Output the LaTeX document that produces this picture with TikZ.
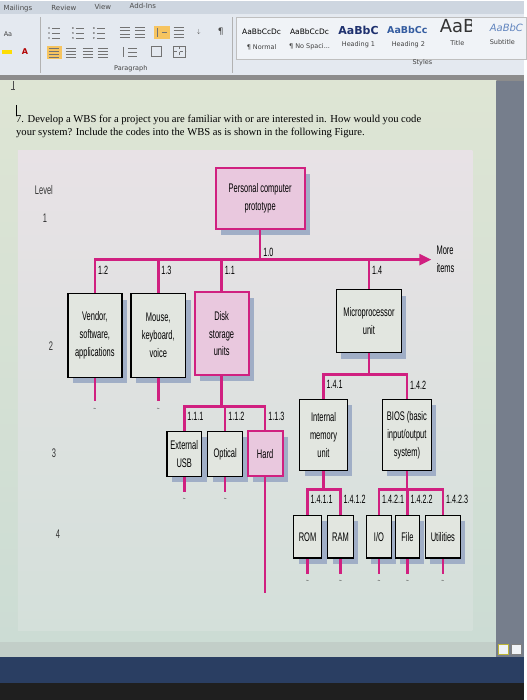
\documentclass[tikz,border=0pt]{standalone}
\usepackage{fontspec}
\setmainfont{Liberation Serif}
\newfontfamily\figfont[FakeStretch=0.6]{Liberation Sans}
\newfontfamily\uifont{DejaVu Sans}
\usetikzlibrary{arrows.meta, positioning, shadows, backgrounds}

\definecolor{wbsmagenta}{RGB}{208,32,128}
\definecolor{wbspink}{RGB}{233,200,222}
\definecolor{shadowblue}{RGB}{160,174,198}
\definecolor{boxfill}{RGB}{226,230,224}
\definecolor{figtop}{RGB}{232,226,230}
\definecolor{figbot}{RGB}{212,224,218}
\definecolor{pagetop}{RGB}{222,229,212}
\definecolor{pagebot}{RGB}{204,220,212}
\definecolor{sidegray}{RGB}{118,126,140}
\definecolor{statusbar}{RGB}{194,206,200}
\definecolor{taskbar}{RGB}{42,62,98}
\definecolor{ribbonbg}{RGB}{228,233,240}
\definecolor{tabbg}{RGB}{206,214,224}
\definecolor{gallerybg}{RGB}{240,243,247}
\definecolor{btnorange}{RGB}{246,196,96}
\definecolor{headone}{RGB}{30,48,110}
\definecolor{headtwo}{RGB}{52,92,160}
\definecolor{subtblue}{RGB}{96,132,190}

\begin{document}
\begin{tikzpicture}[
    x=1pt, y=-1pt,
    wbsbox/.style={rectangle, draw=black, line width=1.5pt, fill=boxfill, inner sep=1pt,
        align=center, font=\figfont\fontsize{12.5}{18}\selectfont,
        drop shadow={shadow xshift=5pt, shadow yshift=-6pt, fill=shadowblue, opacity=1}},
    pinkbox/.style={wbsbox, draw=wbsmagenta, line width=2pt, fill=wbspink},
    lvtwo/.style={minimum width=54pt, minimum height=84pt},
    lvthree/.style={minimum width=35pt, minimum height=45pt},
    lvfour/.style={minimum height=43pt},
    wbsline/.style={draw=wbsmagenta, line width=2.6pt},
    code/.style={font=\figfont\fontsize{12}{14}\selectfont, inner sep=1pt},
    codebelow/.style={code, anchor=north west, xshift=2pt, yshift=-5pt},
    levellabel/.style={font=\figfont\fontsize{12.5}{14}\selectfont, text=black!80},
    tilde/.style={font=\figfont\fontsize{8}{8}\selectfont, text=black!70, inner sep=0pt},
    tab/.style={font=\uifont\fontsize{7}{8}\selectfont, text=black!70},
    uitext/.style={font=\uifont\fontsize{6.5}{8}\selectfont, text=black!75},
    icon/.style={draw=black!55, line width=0.8pt}
]

% Screen around the page
\begin{scope}[on background layer]
    \fill[ribbonbg] (0,0) rectangle (525,74);
    \fill[tabbg] (0,0) rectangle (525,13);
    \fill[black!45] (0,74) rectangle (525,80);
    \shade[top color=pagetop, bottom color=pagebot] (0,80) rectangle (497,642);
    \fill[sidegray] (497,80) rectangle (525,657);
    \fill[statusbar] (0,642) rectangle (497,657);
    \fill[taskbar] (0,657) rectangle (525,683);
    \fill[black!88] (0,683) rectangle (525,700);
    \shade[top color=figtop, bottom color=figbot] (18,150) rectangle (473,630);
\end{scope}

% Ribbon tabs
\node[tab] (tmail) at (18,8) {Mailings};
\node[tab] (trev) at (64,7) {Review};
\node[tab] (tview) at (103,6) {View};
\node[tab] (tadd) at (143,5) {Add-Ins};

% Paragraph group
\draw[black!30] (40,16) -- (40,72);
\draw[black!30] (233,16) -- (233,72);
\node[uitext] (aa) at (8,33) {Aa};
\node[font=\uifont\bfseries\fontsize{8}{8}\selectfont, text=red!70!black] (fontcol) at (25,51) {A};
\fill[yellow!80!orange] (2,49) rectangle (12,53);
\fill[btnorange] (154,25) rectangle (170,38);
\fill[btnorange] (47,45) rectangle (62,58);
\foreach \x in {48,72,93} {
    \foreach \r in {0,1,2} {
        \fill[black!55] (\x+1,27+5*\r) circle (0.9);
        \draw[icon] (\x+4,27+5*\r) -- (\x+12,27+5*\r);
    }
}
\foreach \x in {120,135,174} {
    \foreach \r in {0,1,2,3} \draw[icon, line width=0.6pt] (\x,26+3.5*\r) -- (\x+10,26+3.5*\r);
}
\foreach \x in {49,66,83,98} {
    \foreach \r in {0,1,2,3} \draw[icon, line width=0.6pt] (\x,47+3*\r) -- (\x+10,47+3*\r);
}
\draw[icon, line width=0.6pt] (158,27) -- (158,36) (162,31) -- (167,31);
\node[uitext] (sortaz) at (199,31) {$\downarrow$};
\node[font=\uifont\fontsize{9}{9}\selectfont, text=black!70] (pilcrow) at (221,31) {¶};
\foreach \r in {0,1,2} \draw[icon, line width=0.6pt] (128,47+4*\r) -- (137,47+4*\r);
\draw[icon] (124,46) -- (124,56);
\draw[icon] (152,45) rectangle (162,55);
\draw[icon] (174,45) rectangle (186,56);
\draw[icon, dashed, line width=0.5pt] (174,50.5) -- (186,50.5) (180,45) -- (180,56);
\node[uitext] (lblpara) at (131,68) {Paragraph};

% Styles gallery
\draw[black!25, fill=gallerybg] (237,16) rectangle (527,58);
\node[font=\uifont\fontsize{7.5}{8}\selectfont] (snorm) at (262,31) {AaBbCcDc};
\node[uitext] (lnorm) at (262,46) {¶ Normal};
\node[font=\uifont\fontsize{7.5}{8}\selectfont] (snosp) at (310,31) {AaBbCcDc};
\node[uitext] (lnosp) at (310,46) {¶ No Spaci...};
\node[font=\uifont\bfseries\fontsize{11}{12}\selectfont, text=headone] (shone) at (359,29) {AaBbC};
\node[uitext] (lhone) at (359,44) {Heading 1};
\node[font=\uifont\bfseries\fontsize{9.5}{10}\selectfont, text=headtwo] (shtwo) at (408,29) {AaBbCc};
\node[uitext] (lhtwo) at (409,44) {Heading 2};
\begin{scope}
    \clip (436,10) rectangle (472,40);
    \node[font=\uifont\fontsize{18}{18}\selectfont, text=black!80, anchor=west] (stitle) at (437,25) {AaB};
\end{scope}
\node[uitext] (ltitle) at (458,42) {Title};
\node[font=\uifont\itshape\fontsize{10}{10}\selectfont, text=subtblue, anchor=west] (ssub) at (487,27) {AaBbC};
\node[uitext, anchor=west] (lsub) at (487,41) {Subtitle};
\node[uitext] (lblstyles) at (423,62) {Styles};

% Ruler mark, cursor and the question
\draw[black!70, line width=0.7pt] (13,80) -- (13,88) (11,88) -- (15,88);
\draw[black, line width=0.6pt] (16.5,104) -- (16.5,115);
\node[anchor=north west, align=left, inner sep=0pt, font=\fontsize{10.6}{13}\selectfont] (question) at (16,114)
    {7. Develop a WBS for a project you are familiar with or are interested in. How would you code\\
     your system? Include the codes into the WBS as is shown in the following Figure.};

% Level column
\node[levellabel] (lvl) at (44,189) {Level};
\node[levellabel] (lvl1) at (45,217) {1};
\node[levellabel] (lvl2) at (51,346) {2};
\node[levellabel] (lvl3) at (54,453) {3};
\node[levellabel] (lvl4) at (58,534) {4};

% Level 1
\node[pinkbox, minimum width=89pt, minimum height=61pt] (pc) at (260.5,197.5) {Personal computer\\prototype};

% Level 2
\node[wbsbox, lvtwo] (vendor) at (95,335) {Vendor,\\software,\\applications};
\node[wbsbox, lvtwo, minimum width=55pt] (mouse) at (158.5,335) {Mouse,\\keyboard,\\voice};
\node[pinkbox, lvtwo] (disk) at (222,333) {Disk\\storage\\units};
\node[wbsbox, minimum width=65pt, minimum height=63pt] (micro) at (369.5,320.5) {Microprocessor\\unit};

% Level 3
\node[wbsbox, lvthree] (usb) at (184.5,453.5) {External\\USB};
\node[wbsbox, lvthree] (optical) at (225.5,453.5) {Optical};
\node[pinkbox, lvthree] (hard) at (265.5,453.5) {Hard};
\node[wbsbox, minimum width=48pt, minimum height=71pt] (intmem) at (324,434.5) {Internal\\memory\\unit};
\node[wbsbox, minimum width=49pt, minimum height=71pt] (bios) at (407.5,434.5) {BIOS (basic\\input/output\\system)};

% Level 4
\node[wbsbox, lvfour, minimum width=28pt] (rom) at (308,536.5) {ROM};
\node[wbsbox, lvfour, minimum width=26pt] (ram) at (341,536.5) {RAM};
\node[wbsbox, lvfour, minimum width=25pt] (io) at (379.5,536.5) {I/O};
\node[wbsbox, lvfour, minimum width=24pt] (file) at (408,536.5) {File};
\node[wbsbox, lvfour, minimum width=35pt] (util) at (443.5,536.5) {Utilities};

% Junctions
\coordinate (mainbar) at (432,259);
\coordinate (diskbar) at (222,406);
\coordinate (microbar) at (369.5,374);
\coordinate (membar) at (324,489);
\coordinate (biosbar) at (407.5,489);

% Connectors
\draw[wbsline] (pc.south) -- (pc.south |- mainbar);
\draw[wbsline, -{Triangle[length=12pt, width=11pt]}] (vendor.north) |- (mainbar);
\draw[wbsline] (mouse.north) -- (mouse.north |- mainbar);
\draw[wbsline] (disk.north) -- (disk.north |- mainbar);
\draw[wbsline] (micro.north) -- (micro.north |- mainbar);

\draw[wbsline] (disk.south) -- (diskbar);
\draw[wbsline] (usb.north) |- (diskbar) -| (hard.north);
\draw[wbsline] (optical.north) -- (optical.north |- diskbar);

\draw[wbsline] (micro.south) -- (microbar);
\draw[wbsline] (intmem.north) |- (microbar) -| (bios.north);

\draw[wbsline] (intmem.south) -- (membar);
\draw[wbsline] (rom.north) |- (membar) -| (ram.north);

\draw[wbsline] (bios.south) -- (biosbar);
\draw[wbsline] (io.north) |- (biosbar) -| (util.north);
\draw[wbsline] (file.north) -- (file.north |- biosbar);

% Open ends
\foreach \b in {vendor, mouse}
    \draw[wbsline] (\b.south) -- ++(0,23) node[tilde, below=6pt] (end-\b) {\textasciitilde};
\foreach \b in {usb, optical, rom, ram, io, file, util}
    \draw[wbsline] (\b.south) -- ++(0,15) node[tilde, below=5pt] (end-\b) {\textasciitilde};
\draw[wbsline] (hard.south) -- ++(0,116);

% Codes
\path (pc.south |- mainbar) node[code, anchor=south west, xshift=2pt, yshift=2pt] (c10) {1.0};
\path (vendor.north |- mainbar) node[codebelow] (c12) {1.2};
\path (mouse.north |- mainbar) node[codebelow] (c13) {1.3};
\path (disk.north |- mainbar) node[codebelow] (c11) {1.1};
\path (micro.north |- mainbar) node[codebelow] (c14) {1.4};
\path (usb.north |- diskbar) node[codebelow] (c111) {1.1.1};
\path (optical.north |- diskbar) node[codebelow] (c112) {1.1.2};
\path (hard.north |- diskbar) node[codebelow] (c113) {1.1.3};
\path (intmem.north |- microbar) node[codebelow] (c141) {1.4.1};
\path (bios.north |- microbar) node[codebelow] (c142) {1.4.2};
\path (rom.north |- membar) node[codebelow] (c1411) {1.4.1.1};
\path (ram.north |- membar) node[codebelow] (c1412) {1.4.1.2};
\path (io.north |- biosbar) node[codebelow] (c1421) {1.4.2.1};
\path (file.north |- biosbar) node[codebelow] (c1422) {1.4.2.2};
\path (util.north |- biosbar) node[codebelow] (c1423) {1.4.2.3};
\node[code, anchor=west, align=left, font=\figfont\fontsize{12.5}{18}\selectfont] (more) at (436,259) {More\\items};

% Status bar buttons
\draw[yellow!70!black, fill=gallerybg] (499,644) rectangle (509,654);
\draw[black!50, fill=gallerybg] (512,644) rectangle (522,654);

\end{tikzpicture}
\end{document}
